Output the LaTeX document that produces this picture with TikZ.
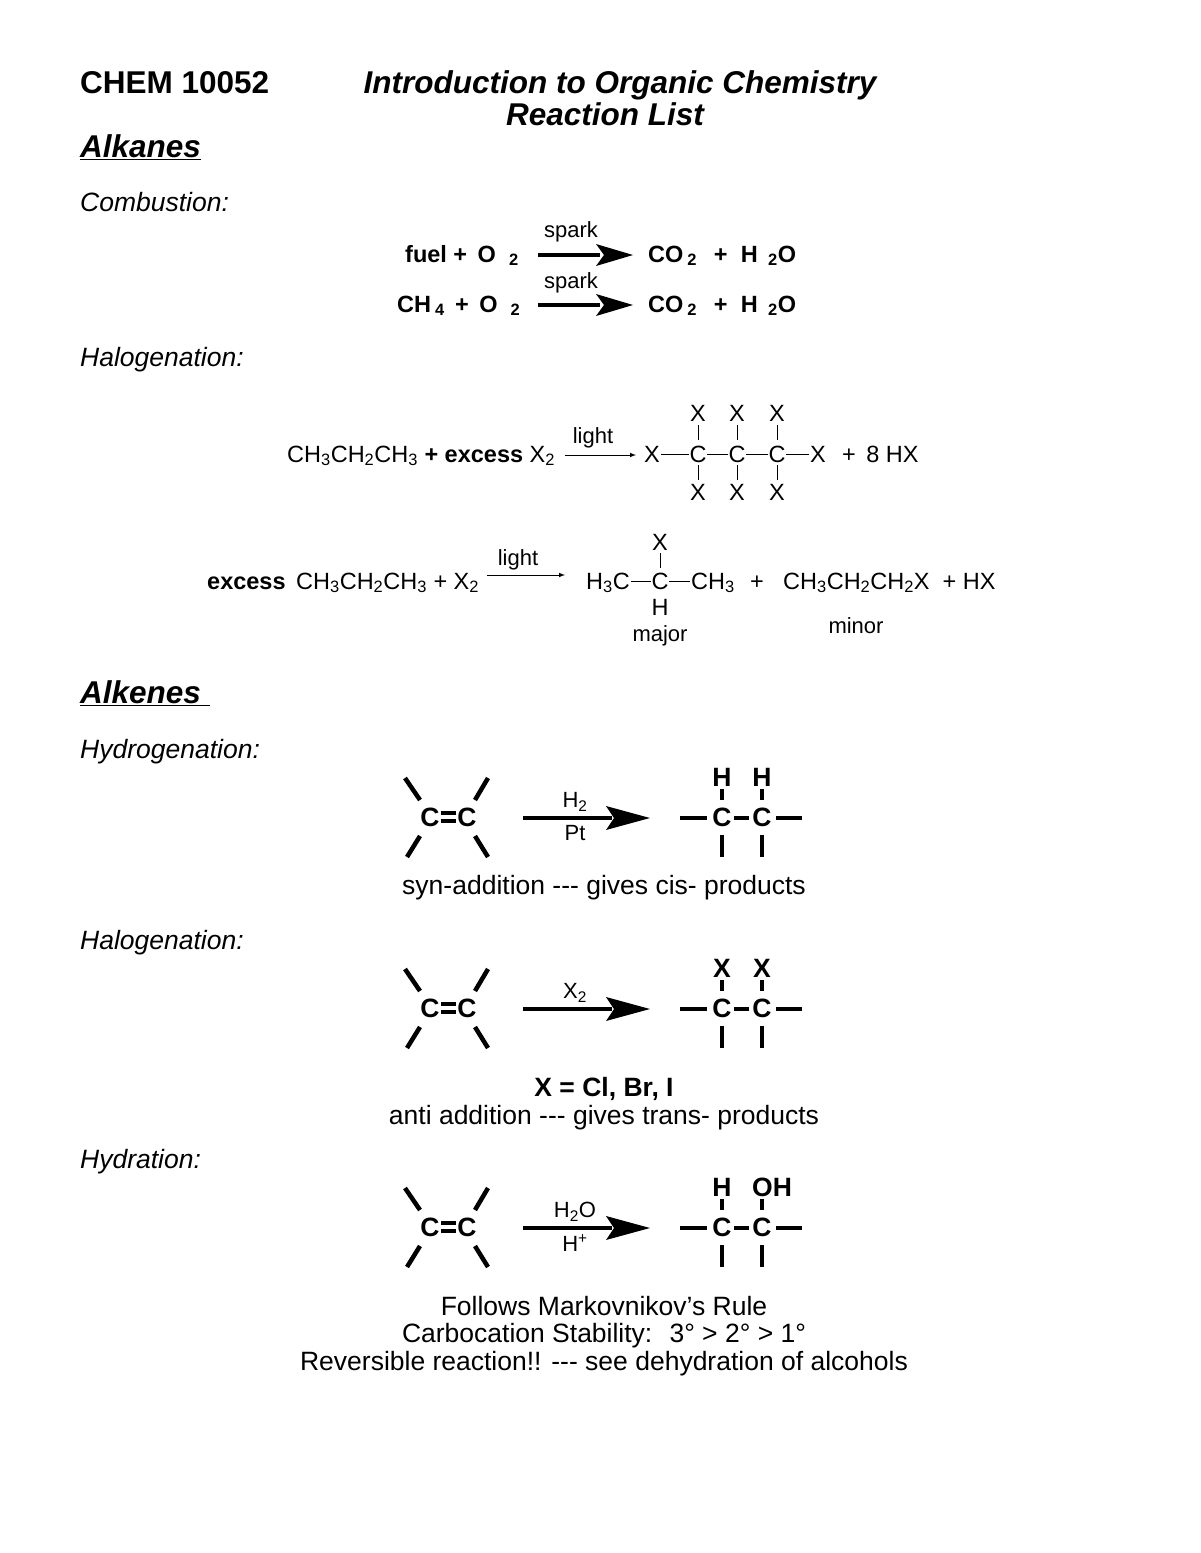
\documentclass[tikz,border=0pt]{standalone}
\usepackage{fontspec}
\setmainfont{Liberation Sans}
\newcommand{\sub}[1]{\textsubscript{#1}}
\newcommand{\fsA}{\fontsize{31.5}{35}\selectfont}
\newcommand{\fsB}{\fontsize{26.5}{30}\selectfont}
\newcommand{\fsC}{\fontsize{23.5}{27}\selectfont}
\newcommand{\fsL}{\fontsize{22}{26}\selectfont}
\newcommand{\alkstruct}[4]{% y, label above, label below, which product top labels
\begin{scope}[yshift=-#1]
 \node[chemB] (cl) at (430,0) {C};
 \node[chemB] (cr) at (467,0) {C};
 \draw[bond] (441,-4)--(456,-4) (441,4)--(456,4);
 \draw[bond] (405,-39)--(420,-17) (407,40)--(420,19) (488,-39)--(475,-17) (488,40)--(475,19);
 \draw[bond] (523,1)--(612,1);
 \fill (606,-11)--(650,1)--(606,13)--(614,1)--cycle;
 \node[fsl] (la) at (575,-15) {#2};
 \node[fsl] (lb) at (575,16) {#3};
 \node[chemB] (pc1) at (722,0) {C};
 \node[chemB] (pc2) at (762,0) {C};
 \draw[bond] (680,1)--(707,1) (734,1)--(749,1) (776,1)--(802,1);
 \draw[bond] (722,-28)--(722,-17) (762,-28)--(762,-17);
 \draw[bond] (722,18)--(722,40) (762,18)--(762,40);
 #4
\end{scope}}
\begin{document}
\begin{tikzpicture}[x=1pt,y=-1pt,
  hd/.style={inner sep=0,anchor=base west,font=\fsA\bfseries},
  tx/.style={inner sep=0,anchor=base west,font=\fsB\itshape},
  ch/.style={inner sep=0,anchor=base,font=\fsC\bfseries},
  chn/.style={inner sep=0,anchor=base,font=\fsC},
  chemB/.style={inner sep=0,font=\fsB\bfseries},
  fsl/.style={inner sep=0,font=\fsL},
  ctr/.style={inner sep=0,anchor=base,font=\fsB},
  bond/.style={line width=4.5pt},
  thin/.style={line width=1pt}]
\useasboundingbox[fill=white] (0,0) rectangle (1200,1553);
% header
\node[hd] (chem) at (80,93) {CHEM 10052};
\node[inner sep=0,anchor=base,font=\fsA\bfseries\itshape] (title) at (620,93) {Introduction to Organic Chemistry};
\node[inner sep=0,anchor=base,font=\fsA\bfseries\itshape] (title2) at (605,125) {Reaction List};
\node[hd,font=\fsA\bfseries\itshape] (alkanes) at (80,157) {\underline{Alkanes}};
\node[tx] (comb) at (80,211) {Combustion:};
% combustion
\node[ch,anchor=base west] (r1) at (405,262) {fuel + \,O \ \sub{2}};
\draw[line width=4pt] (538,255)--(600,255);
\fill (596,244)--(633,255)--(596,266)--(604,255)--cycle;
\node[fsl] (s1) at (571,232) {spark};
\node[ch,anchor=base west] (p1) at (648,262) {CO\,\sub{2} \ \,+ \ H \,\sub{2}O};
\node[ch,anchor=base west] (r2) at (397,312) {CH\,\sub{4} \,+ \,O \ \sub{2}};
\draw[line width=4pt] (538,305)--(600,305);
\fill (596,294)--(633,305)--(596,316)--(604,305)--cycle;
\node[fsl] (s2) at (571,283) {spark};
\node[ch,anchor=base west] (p2) at (648,312) {CO\,\sub{2} \ \,+ \ H \,\sub{2}O};
\node[tx] (halo) at (80,366) {Halogenation:};
% halogenation 1
\node[chn,anchor=base west] (h1) at (287,462) {CH\sub{3}CH\sub{2}CH\sub{3} \textbf{+ excess} X\sub{2}};
\draw[thin,-latex] (565,455)--(636,455);
\node[fsl] (l1) at (593,438) {light};
\foreach \x/\n in {652/xa,698/c1,737/c2,777/c3,818/xb}{\node[chn] (\n) at (\x,462) {\ifnum\x=652 X\else\ifnum\x=818 X\else C\fi\fi};}
\draw[thin] (661,454)--(689,454) (707,454)--(728,454) (746,454)--(768,454) (786,454)--(809,454);
\foreach \x in {698,737,777}{
 \node[chn] at (\x,421) {X}; \node[chn] at (\x,500) {X};
 \draw[thin] (\x,425)--(\x,440) (\x,465)--(\x,480);}
\node[chn,anchor=base west] (hx8) at (842,462) {+ \,8 HX};
% halogenation 2
\node[ch,anchor=base west] (exc) at (207,589) {excess};
\node[chn,anchor=base west] (h2) at (296,589) {CH\sub{3}CH\sub{2}CH\sub{3} + X\sub{2}};
\draw[thin,-latex] (487,575)--(565,575);
\node[fsl] (l2) at (518,560) {light};
\node[chn,anchor=base east] (h3c) at (630,589) {H\sub{3}C};
\node[chn] (cc) at (660,589) {C};
\node[chn,anchor=base west] (ch3) at (691,589) {CH\sub{3}};
\draw[thin] (631,581)--(651,581) (669,581)--(690,581) (660,553)--(660,568);
\node[chn] (xx) at (660,550) {X};
\node[chn] (hh) at (660,615) {H};
\node[chn] (pl) at (757,589) {+};
\node[chn,anchor=base west] (mn) at (783,589) {CH\sub{3}CH\sub{2}CH\sub{2}X \ + HX};
\node[fsl] (maj) at (660,636) {major};
\node[fsl] (min) at (856,626) {minor};
% alkenes
\node[hd,font=\fsA\bfseries\itshape] (alkenes) at (80,703) {\underline{Alkenes\ }};
\node[tx] (hydro) at (80,758) {Hydrogenation:};
\alkstruct{817}{H\sub{2}}{Pt}{\node[chemB] at (722,-40) {H}; \node[chemB] at (762,-40) {H};}
\node[ctr] (syn) at (604,894) {syn-addition -{}-{}- gives cis- products};
\node[tx] (halo2) at (80,949) {Halogenation:};
\alkstruct{1008}{X\sub{2}}{}{\node[chemB] at (722,-40) {X}; \node[chemB] at (762,-40) {X};}
\node[ctr,font=\fsB\bfseries] (xeq) at (604,1096) {X = Cl, Br, I};
\node[ctr] (anti) at (604,1124) {anti addition -{}-{}- gives trans- products};
\node[tx] (hyd) at (80,1168) {Hydration:};
\alkstruct{1227}{H\sub{2}O}{H\textsuperscript{+}}{\node[chemB] at (722,-40) {H}; \node[chemB] at (772,-40) {OH};}
\node[ctr] (f1) at (604,1315) {Follows Markovnikov{\char"27}s Rule};
\node[ctr] (f2) at (604,1342) {Carbocation Stability: \ 3° > 2° > 1°};
\node[ctr] (f3) at (604,1370) {Reversible reaction!! -{}-{}- see dehydration of alcohols};
\end{tikzpicture}
\end{document}
